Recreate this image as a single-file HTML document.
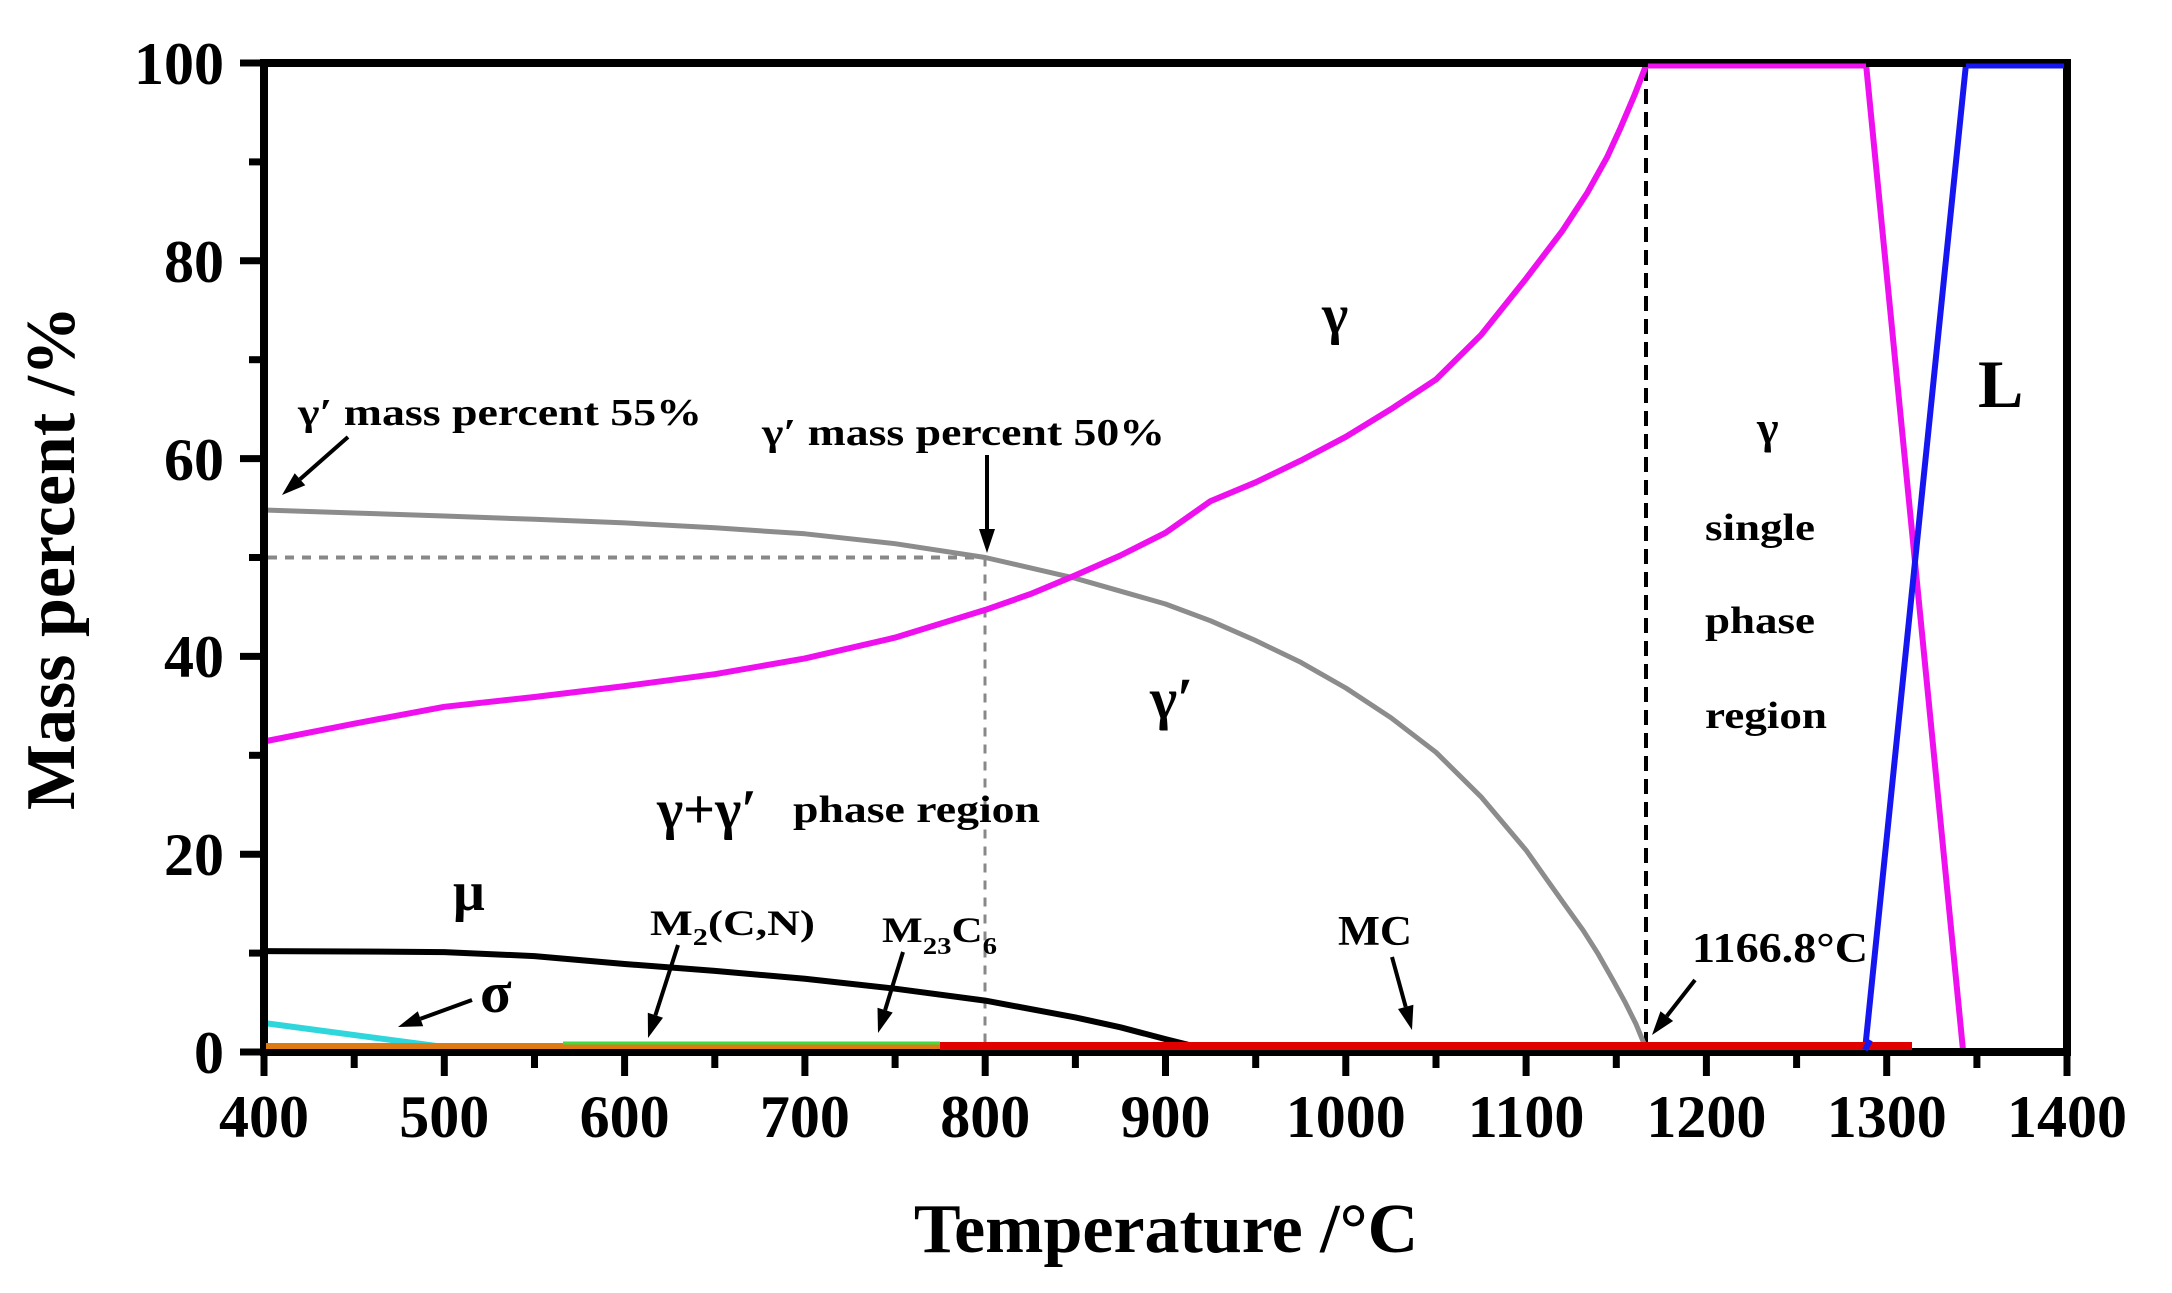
<!DOCTYPE html>
<html>
<head>
<meta charset="utf-8">
<style>
  html,body{margin:0;padding:0;background:#fff;}
  svg{display:block;}
  text{font-family:"Liberation Serif","DejaVu Serif",serif;font-weight:bold;fill:#000;}
</style>
</head>
<body>
<svg width="2172" height="1293" viewBox="0 0 2172 1293" xmlns="http://www.w3.org/2000/svg">
  <rect x="0" y="0" width="2172" height="1293" fill="#ffffff"/>

  <!-- gray dashed guide lines -->
  <line x1="268" y1="557.5" x2="985" y2="557.5" stroke="#888" stroke-width="4" stroke-dasharray="9,8"/>
  <line x1="985" y1="557.5" x2="985" y2="1048" stroke="#888" stroke-width="3" stroke-dasharray="9,8"/>
  <!-- black dashed line at 1166.8 -->
  <line x1="1646" y1="66" x2="1646" y2="1048" stroke="#000" stroke-width="4" stroke-dasharray="15,8"/>

  <!-- sigma (cyan) -->
  <line x1="264" y1="1023" x2="444" y2="1047" stroke="#2fd6dc" stroke-width="6"/>

  <!-- mu (black) -->
  <polyline fill="none" stroke="#000" stroke-width="6" stroke-linejoin="round"
    points="264,951.1 354.2,951.5 444.3,952.1 534.5,956.1 624.6,964 714.8,970.9 804.9,978.8 895.1,988.7 985.2,1000.6 1075.4,1017.4 1120.5,1027.3 1165.5,1039.1 1205.2,1049"/>

  <!-- gamma prime (gray) -->
  <polyline fill="none" stroke="#8c8c8c" stroke-width="5" stroke-linejoin="round"
    points="264,510 354.2,513 444.3,516 534.5,519.3 624.6,522.9 714.8,527.8 804.9,533.8 895.1,543.7 985.2,557.5 1075.4,578.3 1165.5,604 1210.6,620.8 1255.7,640.6 1300.7,662.3 1345.8,688 1390.9,717.7 1436,752.3 1481,796.8 1526.1,850.2 1547.1,879.9 1564,903.7 1583.2,930.4 1598.2,954.1 1612.8,979.8 1625.3,1002.6 1636.1,1024.3 1646.6,1050"/>

  <!-- gamma (magenta) -->
  <polyline fill="none" stroke="#ee10ee" stroke-width="6" stroke-linejoin="round"
    points="264,741.5 354.2,723.7 444.3,706.8 534.5,697 624.6,686.1 714.8,674.2 804.9,658.4 895.1,637.6 985.2,609.9 1030.3,594.1 1075.4,575.3 1120.4,555.5 1165.5,532.8 1210.6,501.1 1255.7,482.3 1300.7,460.6 1345.8,436.8 1390.9,409.2 1436,379.5 1481,335 1526.1,278.6 1562.2,231.1 1587.4,192.6 1607.2,157 1619.9,129.3 1634.3,95.6 1646.6,64 1866,64 1963,1050"/>

  <!-- liquid (blue) -->
  <polyline fill="none" stroke="#1616f0" stroke-width="6" stroke-linejoin="round"
    points="1865,1050 1966,64 2067,64"/>

  <!-- axes frame -->
  <rect x="264" y="63" width="1803" height="989" fill="none" stroke="#000" stroke-width="8"/>
  <!-- redraw flat top segments over the frame -->
  <line x1="1648" y1="66" x2="1866" y2="66" stroke="#ee10ee" stroke-width="5"/>
  <line x1="1966" y1="66" x2="2064" y2="66" stroke="#1616f0" stroke-width="5"/>

  <!-- bottom small phases (drawn over the axis) -->
  <line x1="266" y1="1046" x2="949" y2="1046" stroke="#dd7a14" stroke-width="6"/>
  <line x1="563" y1="1043" x2="940" y2="1043" stroke="#3fdd3f" stroke-width="3"/>
  <line x1="940" y1="1046" x2="1912" y2="1046" stroke="#e00000" stroke-width="8"/>
  <line x1="1865" y1="1050" x2="1870" y2="1040" stroke="#1616f0" stroke-width="6"/>

  <!-- x ticks -->
  <g stroke="#000" stroke-width="7">
    <line x1="264" y1="1052" x2="264" y2="1076"/>
    <line x1="444.3" y1="1052" x2="444.3" y2="1076"/>
    <line x1="624.6" y1="1052" x2="624.6" y2="1076"/>
    <line x1="804.9" y1="1052" x2="804.9" y2="1076"/>
    <line x1="985.2" y1="1052" x2="985.2" y2="1076"/>
    <line x1="1165.5" y1="1052" x2="1165.5" y2="1076"/>
    <line x1="1345.8" y1="1052" x2="1345.8" y2="1076"/>
    <line x1="1526.1" y1="1052" x2="1526.1" y2="1076"/>
    <line x1="1706.4" y1="1052" x2="1706.4" y2="1076"/>
    <line x1="1886.7" y1="1052" x2="1886.7" y2="1076"/>
    <line x1="2067" y1="1052" x2="2067" y2="1076"/>
    <line x1="354.2" y1="1052" x2="354.2" y2="1068"/>
    <line x1="534.5" y1="1052" x2="534.5" y2="1068"/>
    <line x1="714.8" y1="1052" x2="714.8" y2="1068"/>
    <line x1="895.1" y1="1052" x2="895.1" y2="1068"/>
    <line x1="1075.4" y1="1052" x2="1075.4" y2="1068"/>
    <line x1="1255.7" y1="1052" x2="1255.7" y2="1068"/>
    <line x1="1436" y1="1052" x2="1436" y2="1068"/>
    <line x1="1616.3" y1="1052" x2="1616.3" y2="1068"/>
    <line x1="1796.6" y1="1052" x2="1796.6" y2="1068"/>
    <line x1="1976.9" y1="1052" x2="1976.9" y2="1068"/>
    <!-- y ticks -->
    <line x1="240" y1="63" x2="264" y2="63"/>
    <line x1="240" y1="260.8" x2="264" y2="260.8"/>
    <line x1="240" y1="458.6" x2="264" y2="458.6"/>
    <line x1="240" y1="656.4" x2="264" y2="656.4"/>
    <line x1="240" y1="854.2" x2="264" y2="854.2"/>
    <line x1="240" y1="1052" x2="264" y2="1052"/>
    <line x1="249" y1="161.9" x2="264" y2="161.9"/>
    <line x1="249" y1="359.7" x2="264" y2="359.7"/>
    <line x1="249" y1="557.5" x2="264" y2="557.5"/>
    <line x1="249" y1="755.3" x2="264" y2="755.3"/>
    <line x1="249" y1="953.1" x2="264" y2="953.1"/>
  </g>

  <!-- tick labels -->
  <g font-size="60" text-anchor="middle">
    <text x="264" y="1137">400</text>
    <text x="444.3" y="1137">500</text>
    <text x="624.6" y="1137">600</text>
    <text x="804.9" y="1137">700</text>
    <text x="985.2" y="1137">800</text>
    <text x="1165.5" y="1137">900</text>
    <text x="1345.8" y="1137">1000</text>
    <text x="1526.1" y="1137">1100</text>
    <text x="1706.4" y="1137">1200</text>
    <text x="1886.7" y="1137">1300</text>
    <text x="2067" y="1137">1400</text>
  </g>
  <g font-size="60" text-anchor="end">
    <text x="224" y="84">100</text>
    <text x="224" y="282">80</text>
    <text x="224" y="480">60</text>
    <text x="224" y="677">40</text>
    <text x="224" y="875">20</text>
    <text x="224" y="1073">0</text>
  </g>

  <!-- axis titles -->
  <text x="1166" y="1252" font-size="70" text-anchor="middle">Temperature /°C</text>
  <text transform="translate(74,558) rotate(-90)" font-size="70" text-anchor="middle">Mass percent /%</text>

  <!-- annotations -->
  <text x="298" y="425" font-size="38" textLength="404" lengthAdjust="spacingAndGlyphs">γ′ mass percent 55%</text>
  <text x="762" y="445" font-size="38" textLength="403" lengthAdjust="spacingAndGlyphs">γ′ mass percent 50%</text>
  <text x="1322" y="333" font-size="56">γ</text>
  <text x="1150" y="718" font-size="58">γ′</text>
  <text x="657" y="828" font-size="56" textLength="100" lengthAdjust="spacingAndGlyphs">γ+γ′</text>
  <text x="793" y="822" font-size="38" textLength="247" lengthAdjust="spacingAndGlyphs">phase region</text>
  <text x="453" y="910" font-size="56">μ</text>
  <text x="480" y="1012" font-size="58">σ</text>
  <text x="650" y="935" font-size="36" textLength="165" lengthAdjust="spacingAndGlyphs">M<tspan font-size="24" dy="10">2</tspan><tspan dy="-10">(C,N)</tspan></text>
  <text x="882" y="942" font-size="36" textLength="115" lengthAdjust="spacingAndGlyphs">M<tspan font-size="24" dy="12">23</tspan><tspan dy="-12">C</tspan><tspan font-size="24" dy="12">6</tspan></text>
  <text x="1338" y="945" font-size="42" textLength="74" lengthAdjust="spacingAndGlyphs">MC</text>
  <text x="1692" y="962" font-size="42" textLength="176" lengthAdjust="spacingAndGlyphs">1166.8°C</text>
  <text x="1757" y="443" font-size="46">γ</text>
  <text x="1705" y="540" font-size="38" textLength="110" lengthAdjust="spacingAndGlyphs">single</text>
  <text x="1705" y="633" font-size="38" textLength="110" lengthAdjust="spacingAndGlyphs">phase</text>
  <text x="1705" y="728" font-size="38" textLength="122" lengthAdjust="spacingAndGlyphs">region</text>
  <text x="1978" y="407" font-size="68">L</text>

  <!-- arrows -->
  <g stroke="#000" stroke-width="4" fill="none">
    <line x1="348" y1="437" x2="300" y2="479.2"/>
    <line x1="987" y1="455" x2="987" y2="529"/>
    <line x1="472" y1="1000" x2="420.5" y2="1018.8"/>
    <line x1="678" y1="945" x2="655.4" y2="1015.2"/>
    <line x1="903" y1="952" x2="885.1" y2="1010.1"/>
    <line x1="1392" y1="957" x2="1405.7" y2="1006.9"/>
    <line x1="1695" y1="980" x2="1666.8" y2="1016.1"/>
  </g>
  <g fill="#000">
    <polygon points="282,495 294.7,473.2 305.3,485.2"/>
    <polygon points="987,553 979,529 995,529"/>
    <polygon points="398,1027 417.8,1011.3 423.2,1026.3"/>
    <polygon points="648,1038 647.8,1012.7 663,1017.7"/>
    <polygon points="878,1033 877.5,1007.7 892.7,1012.5"/>
    <polygon points="1412,1030 1398,1009 1413.4,1004.8"/>
    <polygon points="1652,1035 1660.5,1011.2 1673.1,1021"/>
  </g>
</svg>
</body>
</html>
